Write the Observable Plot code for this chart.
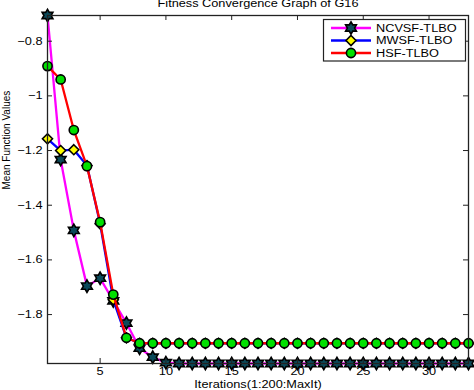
<!DOCTYPE html>
<html><head><meta charset="utf-8">
<script src="https://cdn.jsdelivr.net/npm/d3@7"></script>
<script src="https://cdn.jsdelivr.net/npm/@observablehq/plot@0.6"></script>
<style>body{margin:0;background:#fff} #chart{width:474px;height:390px}</style>
</head><body><div id="chart"></div>
<script>
const iterations = [1,2,3,4,5,6,7,8,9,10,11,12,13,14,15,16,17,18,19,20,21,22,23,24,25,26,27,28,29,30,31,32,33];
const ncvsf = [-0.706,-1.233,-1.492,-1.696,-1.667,-1.750,-1.831,-1.923,-1.956,-1.976,
  -1.979,-1.979,-1.979,-1.979,-1.979,-1.979,-1.979,-1.979,-1.979,-1.979,-1.979,-1.979,
  -1.979,-1.979,-1.979,-1.979,-1.979,-1.979,-1.979,-1.979,-1.979,-1.979,-1.979];
const mwsf = [-1.157,-1.200,-1.197,-1.255,-1.468,-1.746,-1.885,-1.905,-1.905,-1.905,
  -1.905,-1.905,-1.905,-1.905,-1.905,-1.905,-1.905,-1.905,-1.905,-1.905,-1.905,-1.905,
  -1.905,-1.905,-1.905,-1.905,-1.905,-1.905,-1.905,-1.905,-1.905,-1.905,-1.905];
const hsf = [-0.891,-0.940,-1.125,-1.257,-1.462,-1.727,-1.885,-1.905,-1.905,-1.905,
  -1.905,-1.905,-1.905,-1.905,-1.905,-1.905,-1.905,-1.905,-1.905,-1.905,-1.905,-1.905,
  -1.905,-1.905,-1.905,-1.905,-1.905,-1.905,-1.905,-1.905,-1.905,-1.905,-1.905];
const seriesNames = ["NCVSF-TLBO","MWSF-TLBO","HSF-TLBO"];
const xTicks = [5,10,15,20,25,30];
const yTicks = [-0.8,-1,-1.2,-1.4,-1.6,-1.8];
const titleText = "Fitness Convergence Graph of G16";
const xLabel = "Iterations(1:200:MaxIt)";
const yLabel = "Mean Function Values";

const hexagram = {draw(ctx, size){
  const R = Math.sqrt(size/Math.PI), r = R/Math.sqrt(3);
  for (let i=0;i<12;i++){
    const a = Math.PI/2 + i*Math.PI/6, rr = i%2 ? r : R;
    const px = rr*Math.cos(a), py = -rr*Math.sin(a);
    i ? ctx.lineTo(px,py) : ctx.moveTo(px,py);
  }
  ctx.closePath();
}};
const diamond = {draw(ctx, size){
  const R = Math.sqrt(size/Math.PI);
  ctx.moveTo(0,-R); ctx.lineTo(R,0); ctx.lineTo(0,R); ctx.lineTo(-R,0); ctx.closePath();
}};
const styles = [
  {stroke:"#ff00ff", fill:"#0b4a5a", symbol:hexagram, r:6.2},
  {stroke:"#0000ff", fill:"#ffff00", symbol:diamond, r:5},
  {stroke:"#ff0000", fill:"#00e000", symbol:d3.symbolCircle, r:4.6}
];
const values = [ncvsf, mwsf, hsf];
const data = values.map((vs, k) => vs.map((v, i) => ({x: iterations[i], y: v, s: seriesNames[k]})));

const W = 474, H = 390, mL = 47, mR = 6, mT = 15, mB = 27;
const iw = W - mL - mR, ih = H - mT - mB;
const FS = 10.8, SX = 1.18;
const fmt = d => String(d).replace("-", "\u2212");

const marks = [
  Plot.frame({fill:"white"}),
];
data.forEach((d, k) => {
  const st = styles[k];
  marks.push(Plot.line(d, {x:"x", y:"y", stroke: st.stroke, strokeWidth: 2.3}));
  marks.push(Plot.dot(d, {x:"x", y:"y", symbol: () => st.symbol, fill: st.fill, stroke:"black", strokeWidth:1.6, r: st.r}));
});
marks.push(
  Plot.tickX(xTicks, {x: d => d, insetTop: ih - 5, stroke:"#222"}),
  Plot.tickX(xTicks, {x: d => d, insetBottom: ih - 5, stroke:"#222"}),
  Plot.tickY(yTicks, {y: d => d, insetRight: iw - 5, stroke:"#222"}),
  Plot.tickY(yTicks, {y: d => d, insetLeft: iw - 5, stroke:"#222"}),
  Plot.frame({stroke:"#222", strokeWidth:1.3}),
  Plot.axisX({ticks: xTicks, tickSize: 0, tickPadding: 4, label: null, fontSize: FS}),
  Plot.axisY({ticks: yTicks, tickSize: 0, tickPadding: 5, tickFormat: fmt, label: null, fontSize: FS}),
  Plot.text([titleText], {frameAnchor:"top", dy:-8.5, lineAnchor:"bottom", fontSize:FS, fill:"black"}),
  Plot.text([xLabel], {frameAnchor:"bottom", dy:24, lineAnchor:"bottom", fontSize:FS, fill:"black"}),
  Plot.text([yLabel], {frameAnchor:"left", dx:-41, rotate:-90, fontSize:10, fill:"black"})
);

const svg = Plot.plot({
  width: W, height: H, marginLeft: mL, marginRight: mR, marginTop: mT, marginBottom: mB,
  style: {fontFamily: "'Liberation Sans', Arial, sans-serif", fontSize: FS + "px", background: "white", color: "black"},
  x: {domain: [1, 33]},
  y: {domain: [-1.979, -0.706]},
  symbol: {type: "identity"},
  marks
});

// legend
const g = d3.select(svg).append("g")
  .attr("font-family", "'Liberation Sans', Arial, sans-serif").attr("font-size", FS)
  .attr("text-anchor", "start");
g.append("rect").attr("x", 323.5).attr("y", 19.5).attr("width", 142).attr("height", 41.5)
  .attr("fill", "white").attr("stroke", "#222").attr("stroke-width", 1.2);
const rowY = [28, 40.5, 53];
seriesNames.forEach((name, k) => {
  const st = styles[k], y = rowY[k];
  g.append("line").attr("x1", 331).attr("x2", 371).attr("y1", y).attr("y2", y)
    .attr("stroke", st.stroke).attr("stroke-width", 2.3);
  g.append("path").attr("transform", `translate(351,${y})`)
    .attr("d", d3.symbol(st.symbol, Math.PI * st.r * st.r)())
    .attr("fill", st.fill).attr("stroke", "black").attr("stroke-width", 1.6);
  g.append("text").attr("transform", `translate(376,${y})`).attr("dy", "0.35em").attr("fill", "black").text(name);
});
document.getElementById("chart").appendChild(svg);

// the reference's lettering is stretched horizontally: widen each non-rotated text about its own anchor
d3.select(svg).selectAll("text").each(function() {
  const tr = this.getAttribute("transform") || "";
  if (tr.includes("rotate")) return;
  const bb = this.getBBox();
  const anchor = getComputedStyle(this).textAnchor;
  const ax = anchor === "middle" ? bb.x + bb.width / 2 : anchor === "end" ? bb.x + bb.width : bb.x;
  this.setAttribute("transform", `${tr} translate(${ax},0) scale(${SX},1) translate(${-ax},0)`);
});
</script></body></html>
